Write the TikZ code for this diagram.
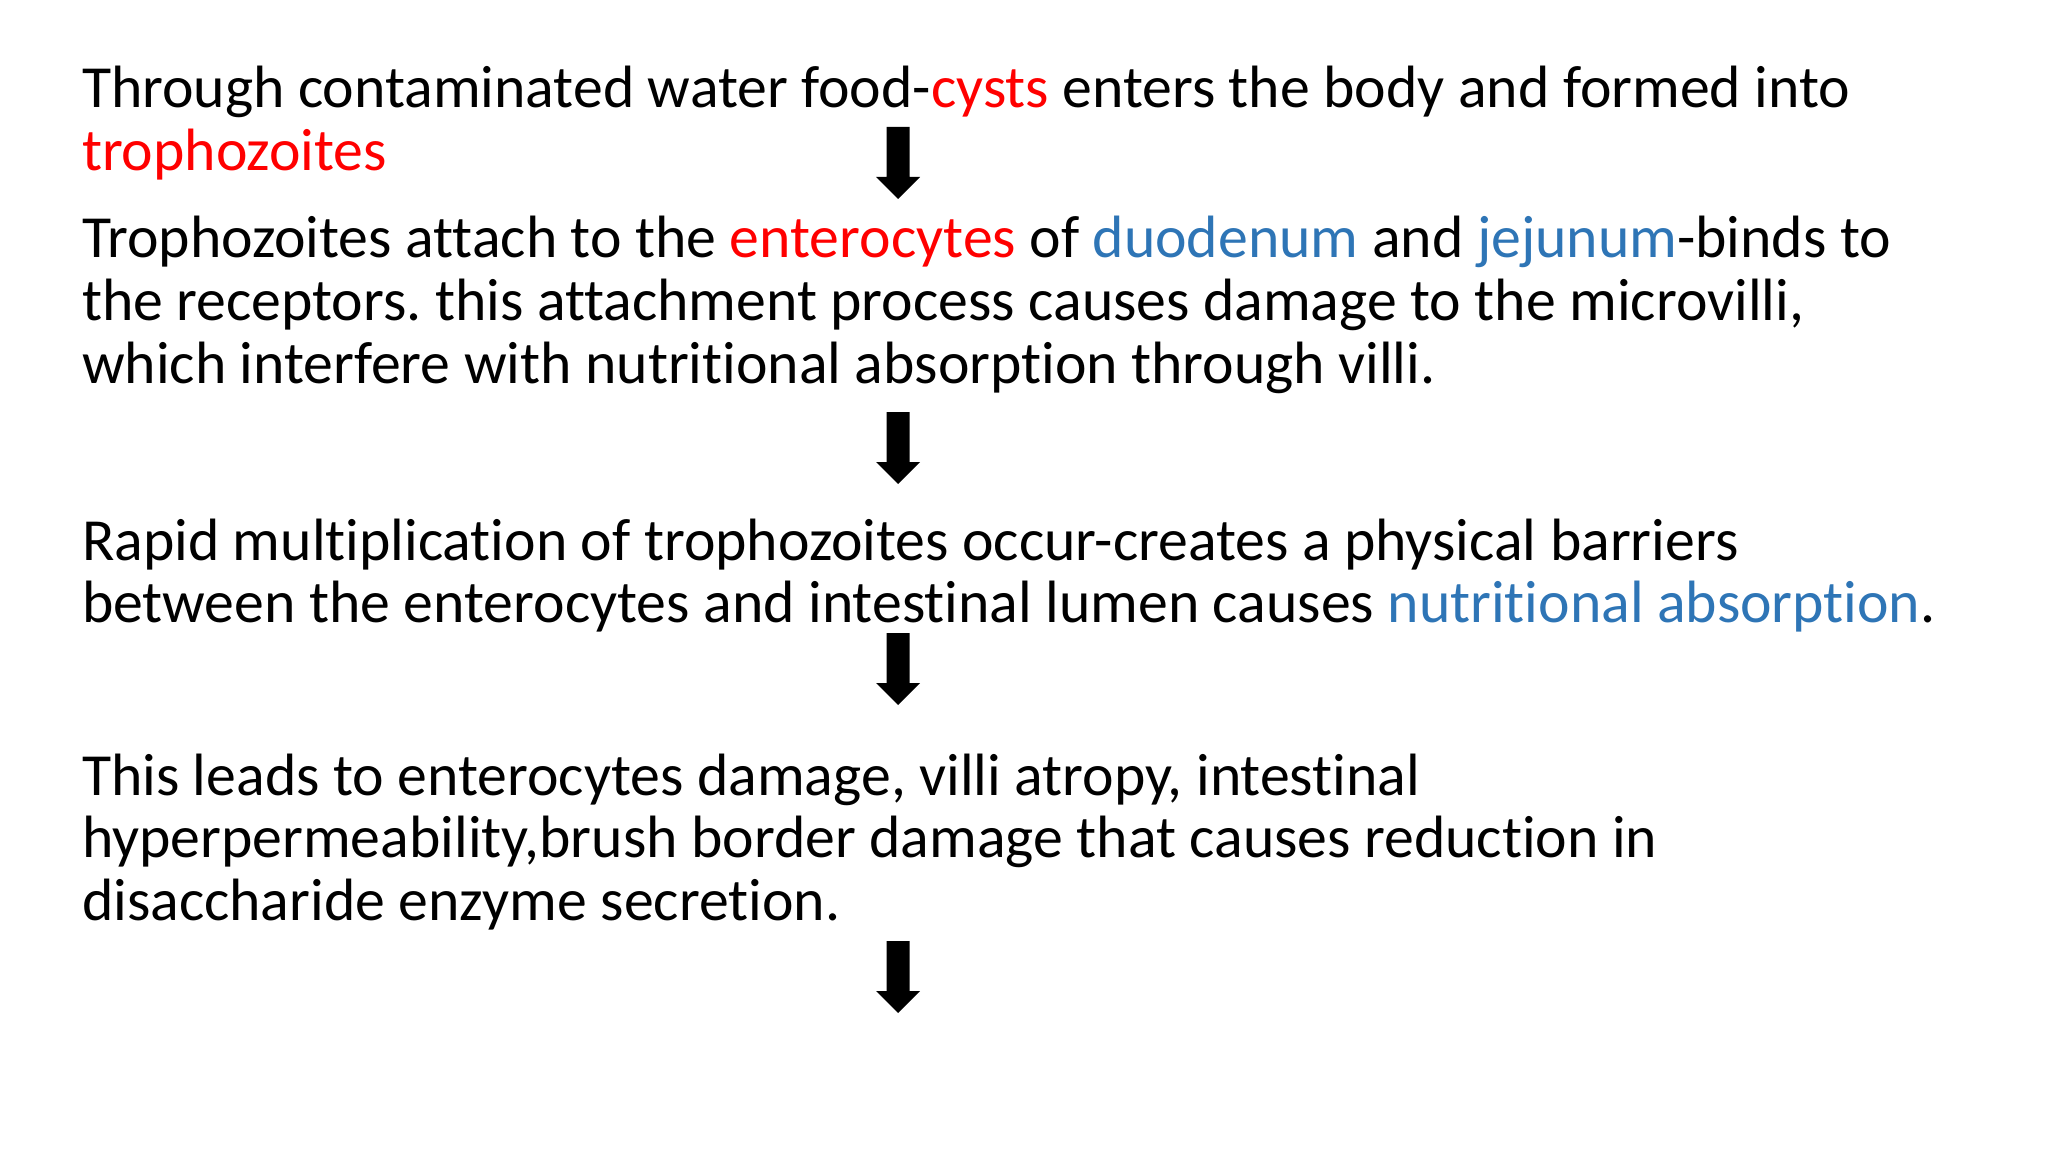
\documentclass[tikz,border=0pt]{standalone}
\usepackage{fontspec}
\setmainfont{Carlito}[Ligatures={NoCommon}]
\definecolor{hred}{RGB}{255,0,0}
\definecolor{hblue}{RGB}{46,117,182}
\newcommand{\rd}[1]{\textcolor{hred}{#1}}
\newcommand{\bl}[1]{\textcolor{hblue}{#1}}
\newcommand{\para}[1]{\vtop{\fontsize{28pt}{29.5pt}\selectfont\frenchspacing\baselineskip=29.5pt\lineskiplimit=-100pt\lineskip=0pt #1}}
\tikzset{
  txt/.style={anchor=base west, inner sep=0pt, outer sep=0pt, font=\fontsize{28pt}{29.5pt}\selectfont},
  flowarrow/.pic={\fill[black] (-11.5,0) -- (11.5,0) -- (11.5,50) -- (22,50) -- (0,72) -- (-22,50) -- (-11.5,50) -- cycle;}
}
\begin{document}
\begin{tikzpicture}[x=0.46875pt,y=-0.46875pt]
\useasboundingbox (0,0) rectangle (2048,1152);
\fill[white] (0,0) rectangle (2048,1152);
\node[txt] (p1) at (82,108) {\para{\hbox{Through contaminated water food-\rd{cysts} enters the body and formed into}\hbox{\rd{trophozoites}}}};
\node[txt] (p2) at (82,258) {\para{\hbox{Trophozoites attach to the \rd{enterocytes} of \bl{duodenum} and \bl{jejunum}-binds to}\hbox{the receptors. this attachment process causes damage to the microvilli,}\hbox{which interfere with nutritional absorption through villi.}}};
\node[txt] (p3) at (82,560) {\para{\hbox{Rapid multiplication of trophozoites occur-creates a physical barriers}\hbox{between the enterocytes and intestinal lumen causes \bl{nutritional absorption}.}}};
\node[txt] (p4) at (82,795) {\para{\hbox{This leads to enterocytes damage, villi atropy, intestinal}\hbox{hyperpermeability,brush border damage that causes reduction in}\hbox{disaccharide enzyme secretion.}}};
\pic at (898,127) {flowarrow};
\pic at (898,412) {flowarrow};
\pic at (898,633) {flowarrow};
\pic at (898,941) {flowarrow};
\end{tikzpicture}
\end{document}
